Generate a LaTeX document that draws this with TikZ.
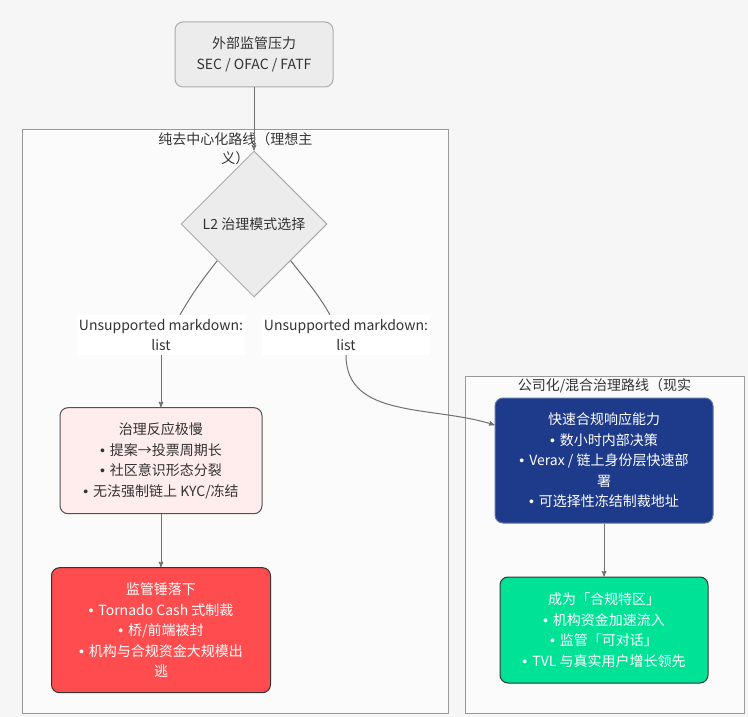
\documentclass[tikz,border=0pt]{standalone}
\usepackage{fontspec}
\setmainfont{Noto Sans CJK SC}
\newfontfamily\bulletfont{Liberation Sans}
\newcommand{\bul}{{\bulletfont •}\hspace{5pt}}
\usepackage{xcolor}
\definecolor{colorCanvas}{HTML}{F6F6F6}
\definecolor{colorLane}{HTML}{FBFBFB}
\definecolor{colorLaneBorder}{HTML}{999999}
\definecolor{colorGrey}{HTML}{ECECEC}
\definecolor{colorGreyBorder}{HTML}{ABABAB}
\definecolor{colorPink}{HTML}{FFECEC}
\definecolor{colorRed}{HTML}{FF4D4F}
\definecolor{colorNavy}{HTML}{1E3A8A}
\definecolor{colorMint}{HTML}{00E396}
\definecolor{colorText}{HTML}{333333}
\definecolor{colorLink}{HTML}{707070}
\usetikzlibrary{arrows, positioning, shapes.geometric}
\tikzset{
  lane/.style={draw=colorLaneBorder, fill=colorLane, line width=1pt, inner sep=0pt},
  lanetitle/.style={inner sep=0pt, align=center, text=colorText, font=\fontsize{14}{19}\selectfont},
  stage/.style={rounded corners=8pt, line width=1pt, align=center, inner sep=4pt, font=\fontsize{14}{20.5}\selectfont},
  choice/.style={diamond, aspect=1, minimum size=146pt, inner sep=0pt, fill=colorGrey, draw=colorGreyBorder, line width=1pt, text=colorText, font=\fontsize{14}{20}\selectfont},
  edgelabel/.style={fill=white, inner sep=2pt, minimum width=168pt, minimum height=40pt, align=center, text=colorText, font=\fontsize{14}{20}\selectfont},
  link/.style={draw=colorLink, line width=1pt},
  flow/.style={link, ->}
}

\begin{document}
\begin{tikzpicture}[>=stealth', x=1pt, y=-1pt]
\fill[colorCanvas] (0,0) rectangle (748,717);
\useasboundingbox (0,0) rectangle (748,717);
\node[lane, minimum width=425.5pt, minimum height=583.5pt] (idealLane) at (235.25,421.25) {};
\node[lane, minimum width=279pt, minimum height=337pt] (realLane) at (604.5,544.5) {};
\node[lanetitle, anchor=north] (idealTitle) at ([yshift=-3pt]idealLane.north) {纯去中心化路线（理想主\\义）};
\node[lanetitle, anchor=north] (realTitle) at ([yshift=-3pt]realLane.north) {公司化/混合治理路线（现实};
\node[stage, fill=colorGrey, draw=colorGreyBorder, text=colorText, minimum width=158pt, minimum height=65pt] (pressure) at (254,54.5) {外部监管压力\\SEC / OFAC / FATF};
\node[choice, below=63pt of pressure] (governance) {L2 治理模式选择};
\node[edgelabel] (labelPure) at (161,335) {Unsupported markdown:\\list};
\node[edgelabel] (labelCorp) at (346,335) {Unsupported markdown:\\list};
\node[stage, fill=colorPink, draw=colorText!85, text=colorText, minimum width=202pt, minimum height=106pt, below=52pt of labelPure] (slow) {治理反应极慢\\\bul 提案→投票周期长\\\bul 社区意识形态分裂\\\bul 无法强制链上 KYC/冻结};
\node[stage, fill=colorRed, draw=colorText, text=white, minimum width=219pt, minimum height=125pt, below=53pt of slow] (hammer) {监管锤落下\\\bul Tornado Cash 式制裁\\\bul 桥/前端被封\\\bul 机构与合规资金大规模出\\逃};
\node[stage, fill=colorNavy, draw=colorNavy!70!white, text=white, minimum width=218pt, minimum height=125pt] (fast) at (604,460.5) {快速合规响应能力\\\bul 数小时内部决策\\\bul Verax / 链上身份层快速部\\署\\\bul 可选择性冻结制裁地址};
\node[stage, fill=colorMint, draw=colorText, text=white, minimum width=208pt, minimum height=106pt, below=53pt of fast] (zone) {成为「合规特区」\\\bul 机构资金加速流入\\\bul 监管「可对话」\\\bul TVL 与真实用户增长领先};
\draw[flow] (pressure) -- (governance);
\draw[link] (governance.south west) to[out=-128, in=60] ([xshift=19pt]labelPure.north);
\draw[flow] (labelPure.south) -- (slow.north);
\draw[link] (governance.south east) to[out=-52, in=120] ([xshift=-16pt]labelCorp.north);
\draw[flow] (labelCorp.south) to[out=-90, in=162] ([yshift=35.5pt]fast.west);
\draw[flow] (slow) -- (hammer);
\draw[flow] (fast) -- (zone);
\end{tikzpicture}
\end{document}
